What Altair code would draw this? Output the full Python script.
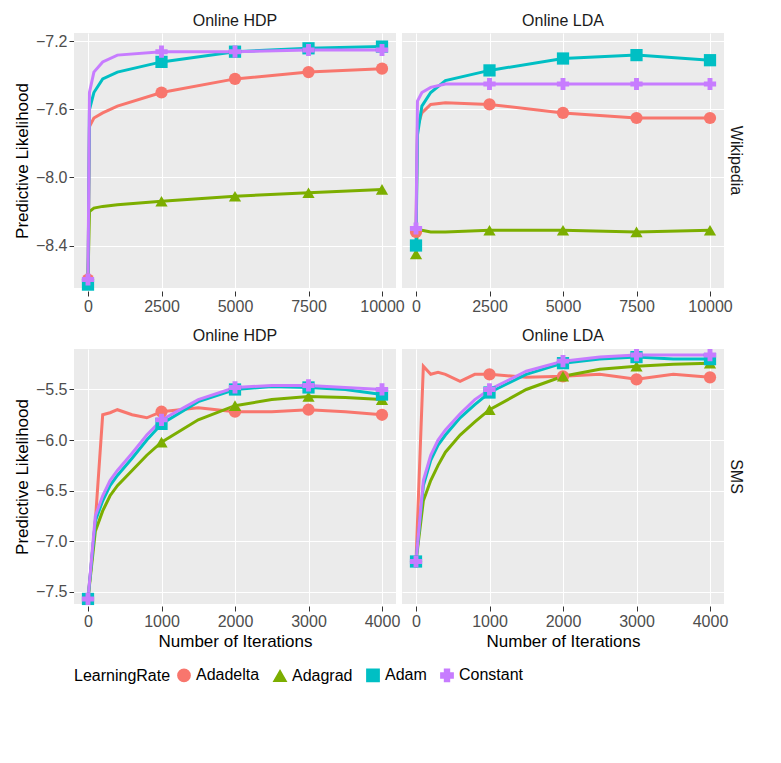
import altair as alt
import pandas as pd

methods = ["Adadelta", "Adagrad", "Adam", "Constant"]
colors = ["#F8766D", "#7CAE00", "#00BFC4", "#C77CFF"]
shapes = ["circle", "triangle-up", "square", "cross"]

wiki_x = [0, 50, 200, 500, 1000, 2500, 5000, 7500, 10000]
wiki_marks = [0, 2500, 5000, 7500, 10000]
wiki_hdp = {
    "Adadelta": [-8.6, -7.7, -7.65, -7.62, -7.58, -7.5, -7.42, -7.38, -7.36],
    "Adagrad": [-8.6, -8.2, -8.18, -8.17, -8.16, -8.14, -8.11, -8.09, -8.07],
    "Adam": [-8.63, -7.6, -7.5, -7.42, -7.38, -7.32, -7.26, -7.24, -7.23],
    "Constant": [-8.6, -7.5, -7.38, -7.32, -7.28, -7.26, -7.26, -7.25, -7.25],
}
wiki_lda = {
    "Adadelta": [-8.32, -7.7, -7.62, -7.57, -7.56, -7.57, -7.62, -7.65, -7.65],
    "Adagrad": [-8.45, -8.3, -8.31, -8.32, -8.32, -8.31, -8.31, -8.32, -8.31],
    "Adam": [-8.4, -7.75, -7.58, -7.5, -7.43, -7.37, -7.3, -7.28, -7.31],
    "Constant": [-8.3, -7.55, -7.5, -7.47, -7.45, -7.45, -7.45, -7.45, -7.45],
}

sms_x = [0, 100, 200, 300, 400, 600, 800, 1000, 1500, 2000, 2500, 3000, 3500, 4000]
sms_marks = [0, 1000, 2000, 3000, 4000]
sms_hdp = {
    "Adadelta": [-7.57, -6.8, -5.75, -5.73, -5.7, -5.75, -5.78, -5.72, -5.68, -5.72, -5.72, -5.7, -5.72, -5.75],
    "Adagrad": [-7.57, -6.9, -6.7, -6.55, -6.45, -6.3, -6.15, -6.02, -5.8, -5.66, -5.6, -5.57, -5.58, -5.6],
    "Adam": [-7.57, -6.8, -6.6, -6.45, -6.35, -6.18, -6.0, -5.84, -5.62, -5.5, -5.47, -5.48, -5.5, -5.55],
    "Constant": [-7.57, -6.75, -6.55, -6.4, -6.3, -6.13, -5.95, -5.8, -5.6, -5.48, -5.46, -5.46, -5.48, -5.5],
}
sms_lda = {
    "Adadelta": [-7.2, -5.27, -5.35, -5.33, -5.35, -5.42, -5.35, -5.35, -5.38, -5.37, -5.35, -5.4, -5.35, -5.38],
    "Adagrad": [-7.2, -6.6, -6.4, -6.25, -6.12, -5.95, -5.82, -5.7, -5.5, -5.37, -5.3, -5.27, -5.25, -5.24],
    "Adam": [-7.2, -6.45, -6.2, -6.05, -5.95, -5.78, -5.65, -5.53, -5.35, -5.24, -5.2, -5.18, -5.2, -5.2],
    "Constant": [-7.2, -6.4, -6.15, -6.0, -5.9, -5.74, -5.6, -5.5, -5.32, -5.22, -5.18, -5.16, -5.16, -5.16],
}


def frame(xs, marks, series, model, dataset):
    rows = []
    for m in methods:
        for x, y in zip(xs, series[m]):
            rows.append({"x": x, "y": y, "LearningRate": m, "model": model,
                         "dataset": dataset, "mark": x in marks})
    return rows


color = alt.Color("LearningRate:N", scale=alt.Scale(domain=methods, range=colors))
shape = alt.Shape("LearningRate:N", scale=alt.Scale(domain=methods, range=shapes))


def row(df, ticks, xtitle, ydomain, yticks):
    x = alt.X("x:Q", title=xtitle, axis=alt.Axis(values=ticks, format="d"),
              scale=alt.Scale(nice=False, padding=14))
    y = alt.Y("y:Q", title="Predictive Likelihood",
              scale=alt.Scale(domain=ydomain, nice=False, zero=False),
              axis=alt.Axis(values=yticks))
    base = alt.Chart().encode(x=x, y=y, color=color)
    line = base.mark_line(strokeWidth=3)
    pts = base.transform_filter("datum.mark").mark_point(filled=True, size=150, opacity=1).encode(shape=shape)
    return alt.layer(line, pts, data=pd.DataFrame(df)).properties(width=322, height=255).facet(
        column=alt.Column("model:N", title=None),
        row=alt.Row("dataset:N", title=None,
                    header=alt.Header(labelOrient="right", labelAngle=90)),
        spacing=6,
    )


top = row(frame(wiki_x, wiki_marks, wiki_hdp, "Online HDP", "Wikipedia")
          + frame(wiki_x, wiki_marks, wiki_lda, "Online LDA", "Wikipedia"),
          [0, 2500, 5000, 7500, 10000], None, [-8.65, -7.15], [-8.4, -8.0, -7.6, -7.2])
bottom = row(frame(sms_x, sms_marks, sms_hdp, "Online HDP", "SMS")
             + frame(sms_x, sms_marks, sms_lda, "Online LDA", "SMS"),
             [0, 1000, 2000, 3000, 4000], "Number of Iterations", [-7.62, -5.1],
             [-7.5, -7.0, -6.5, -6.0, -5.5])

chart = alt.vconcat(top, bottom, spacing=14).resolve_scale(y="independent", x="independent").configure_view(
    fill="#EBEBEB", stroke=None
).configure_axis(
    gridColor="white", domain=False, tickColor="#333333", labelFontSize=16, titleFontSize=17,
    labelColor="#4d4d4d", titleColor="#000000", titleFontWeight="normal",
    labelFont="Liberation Sans", titleFont="Liberation Sans"
).configure_legend(
    orient="bottom", direction="horizontal", labelFontSize=16, titleFontSize=16,
    titleFontWeight="normal", titleOrient="left", symbolSize=150, titleColor="#000000",
    labelFont="Liberation Sans", titleFont="Liberation Sans"
).configure_header(
    labelFont="Liberation Sans", labelFontSize=16, labelColor="#1a1a1a", labelPadding=4
)

chart.save("out.html", embed_options={"renderer": "svg", "actions": False})
